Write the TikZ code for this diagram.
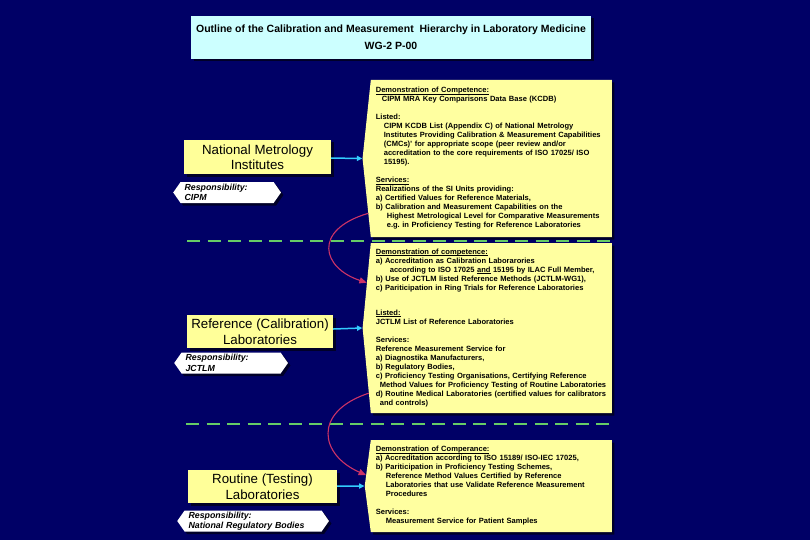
\documentclass[tikz,border=0pt]{standalone}
\usepackage{fontspec}
\setmainfont{Liberation Sans}
\usetikzlibrary{arrows.meta,shapes.symbols,shadows}

\definecolor{navy}{RGB}{0,0,102}
\definecolor{docyellow}{RGB}{255,255,160}
\definecolor{boxyellow}{RGB}{255,255,153}
\definecolor{titlecyan}{RGB}{204,255,255}
\definecolor{feedblue}{RGB}{51,204,255}
\definecolor{linkred}{RGB}{204,51,102}
\definecolor{sepgreen}{RGB}{102,204,102}

\newcommand{\hdr}[1]{\leavevmode\setbox0\hbox{#1}\rlap{\rule[-1.1pt]{\wd0}{.45pt}}\box0\relax}

\begin{document}
\begin{tikzpicture}[x=1pt, y=-1pt,
	shade/.style={drop shadow={shadow xshift=2.5pt, shadow yshift=-2.5pt, fill=black, opacity=.6}},
	doc/.style={signal, signal to=west, fill=docyellow, shade, anchor=east, text width=231pt, inner xsep=5pt, inner ysep=2pt, align=left, font=\fontsize{7.55}{9}\selectfont\bfseries},
	inst/.style={fill=boxyellow, shade, align=center, inner sep=0pt, font=\fontsize{13.3}{15.5}\selectfont},
	resp/.style={signal, signal to=west and east, signal pointer angle=110, fill=white, shade, anchor=west, inner xsep=4pt, inner ysep=1pt, minimum height=21pt, align=left, font=\fontsize{8.8}{10.5}\selectfont\bfseries\itshape},
	feed/.style={draw=feedblue, line width=1.5pt, -{Triangle[angle=50:6pt]}},
	link/.style={draw=linkred, line width=1.1pt, -{Triangle[angle=45:8pt]}},
	sep/.style={draw=sepgreen, line width=2pt, dash pattern=on 13pt off 7.5pt}]

	\fill[navy] (0,0) rectangle (810,540);
	\useasboundingbox (0,0) rectangle (810,540);

	\node (T) at (391,37.5) [fill=titlecyan, shade, minimum width=400pt, minimum height=43pt, align=center, font=\fontsize{10.5}{17}\selectfont\bfseries]
		{Outline of the Calibration and Measurement\ \ Hierarchy in Laboratory Medicine\\WG-2 P-00};

	\node (N1) at (257.5,157) [inst, minimum width=147pt, minimum height=34pt] {National Metrology\\Institutes};
	\node (N2) at (260,331.5) [inst, minimum width=146pt, minimum height=33pt] {Reference (Calibration)\\Laboratories};
	\node (N3) at (262.5,486.5) [inst, minimum width=149pt, minimum height=33pt] {Routine (Testing)\\Laboratories};

	\node (R1) at (173,192.5) [resp, text width=85pt] {Responsibility:\\CIPM};
	\node (R2) at (174,363) [resp, text width=91pt] {Responsibility:\\JCTLM};
	\node (R3) at (177,521) [resp, text width=129pt] {Responsibility:\\National Regulatory Bodies};

	\node (D1) at (612,158.5) [doc, minimum height=157pt, signal pointer angle=168] {%
		\hdr{Demonstration of Competence:}\\
		\hspace*{6pt}CIPM MRA Key Comparisons Data Base (KCDB)\\[9pt]
		Listed:\\
		\hspace*{8pt}CIPM KCDB List (Appendix C) of National Metrology\\
		\hspace*{8pt}Institutes Providing Calibration \& Measurement Capabilities\\
		\hspace*{8pt}(CMCs)' for appropriate scope (peer review and/or\\
		\hspace*{8pt}accreditation to the core requirements of ISO 17025/ ISO\\
		\hspace*{8pt}15195).\\[9pt]
		\hdr{Services:}\\
		Realizations of the SI Units providing:\\
		a) Certified Values for Reference Materials,\\
		b) Calibration and Measurement Capabilities on the\\
		\hspace*{11pt}Highest Metrological Level for Comparative Measurements\\
		\hspace*{11pt}e.g.\ in Proficiency Testing for Reference Laboratories};

	\node (D2) at (612,328) [doc, minimum height=170pt, signal pointer angle=169] {%
		\hdr{Demonstration of competence:}\\
		a) Accreditation as Calibration Laborarories\\
		\hspace*{14pt}according to ISO 17025 \hdr{and} 15195 by ILAC Full Member,\\
		b) Use of JCTLM listed Reference Methods (JCTLM-WG1),\\
		c) Pariticipation in Ring Trials for Reference Laboratories\\[16pt]
		\hdr{Listed:}\\
		JCTLM List of Reference Laboratories\\[9pt]
		Services:\\
		Reference Measurement Service for\\
		a) Diagnostika Manufacturers,\\
		b) Regulatory Bodies,\\
		c) Proficiency Testing Organisations, Certifying Reference\\
		\hspace*{4pt}Method Values for Proficiency Testing of Routine Laboratories\\
		d) Routine Medical Laboratories (certified values for calibrators\\
		\hspace*{4pt}and controls)};

	\node (D3) at (612,486) [doc, minimum height=92pt, signal pointer angle=165] {%
		\hdr{Demonstration of Comperance:}\\
		a) Accreditation according to ISO 15189/ ISO-IEC 17025,\\
		b) Pariticipation in Proficiency Testing Schemes,\\
		\hspace*{10pt}Reference Method Values Certified by Reference\\
		\hspace*{10pt}Laboratories that use Validate Reference Measurement\\
		\hspace*{10pt}Procedures\\[9pt]
		Services:\\
		\hspace*{10pt}Measurement Service for Patient Samples};

	\draw[sep] (187,241) -- (613,241);
	\draw[sep] (186,424) -- (613,424);

	\draw[feed] (N1) to (D1.west);
	\draw[feed] (N2) to (D2.west);
	\draw[feed] (N3) to (D3.west);

	\draw[link] (D1.204) .. controls (312,230) and (322,268) .. (D2.160);
	\draw[link] (D2.208) .. controls (312,412) and (320,455) .. (D3.175);

\end{tikzpicture}
\end{document}
